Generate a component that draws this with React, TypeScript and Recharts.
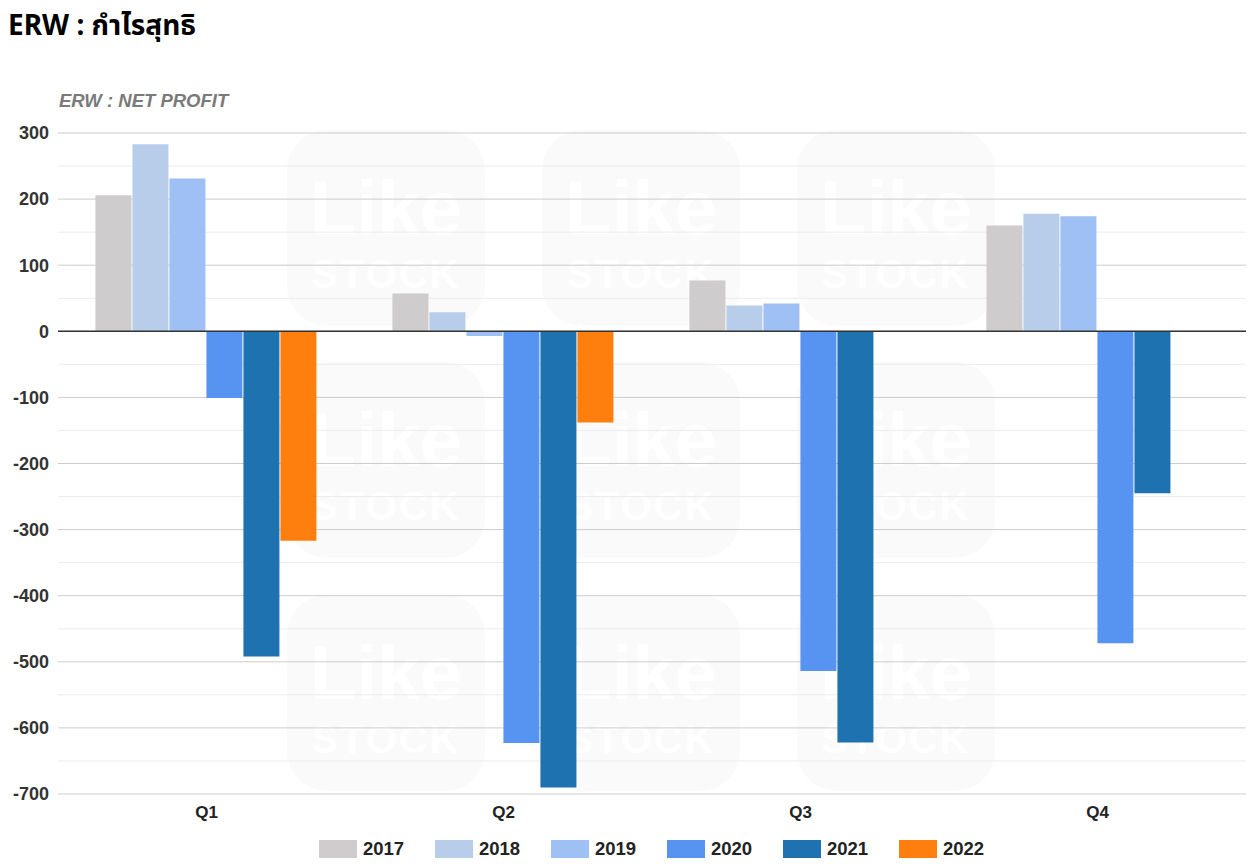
import React from "react";
import { BarChart, Bar, XAxis, YAxis, CartesianGrid, ReferenceLine } from "recharts";

const quarters = ["Q1", "Q2", "Q3", "Q4"];
const years = ["2017", "2018", "2019", "2020", "2021", "2022"];
const colors = ["#cecccc", "#b7cde9", "#9fc0f5", "#5794f2", "#1f72b0", "#ff7f0e"];
const v2017 = [206, 57, 77, 160];
const v2018 = [283, 29, 39, 178];
const v2019 = [231, -7, 42, 174];
const v2020 = [-101, -623, -514, -472];
const v2021 = [-492, -690, -622, -245];
const v2022: (number | null)[] = [-317, -138, null, null];
const yDomain = [-700, 300];
const yTicks = [300, 200, 100, 0, -100, -200, -300, -400, -500, -600, -700];
const minorTicks = [250, 150, 50, -50, -150, -250, -350, -450, -550, -650];

const series = [v2017, v2018, v2019, v2020, v2021, v2022];
const data = quarters.map((q, i) => {
  const row: any = { q };
  years.forEach((y, k) => (row[y] = series[k][i]));
  return row;
});

const font = "'Liberation Sans', Arial, sans-serif";

const wmCols = [287, 542, 797];
const wmRows = [130, 362, 595];

const minorGen = (p: any) => {
  const s = p && p.yAxis && p.yAxis.scale;
  if (typeof s === "function") return minorTicks.map((m) => s(m));
  if (s && typeof s.map === "function") return minorTicks.map((m) => s.map(m));
  const off = p.offset || {};
  const top = off.top ?? 0;
  const h = off.height ?? 0;
  return minorTicks.map((m) => top + ((yDomain[1] - m) / (yDomain[1] - yDomain[0])) * h);
};

export default function App() {
  return (
    <div style={{ position: "absolute", left: 0, top: 0, width: 1257, height: 866, background: "#fff", overflow: "hidden" }}>
      {wmRows.map((t) =>
        wmCols.map((l) => (
          <div
            key={`${l}-${t}`}
            style={{
              position: "absolute",
              left: l,
              top: t,
              width: 198,
              height: 196,
              borderRadius: 40,
              background: "#fafafa",
              color: "#fff",
              fontFamily: font,
              fontWeight: 700,
              textAlign: "center",
              lineHeight: 1,
            }}
          >
            <div style={{ fontSize: 76, marginTop: 40 }}>Like</div>
            <div style={{ fontSize: 40, letterSpacing: 2, marginTop: 8 }}>STOCK</div>
          </div>
        ))
      )}
      <div style={{ position: "absolute", left: 8, top: 5, fontFamily: "'Noto Sans', 'Noto Sans Thai', sans-serif", fontWeight: 700, fontSize: 28, color: "#000" }}>
        ERW : กำไรสุทธิ
      </div>
      <div style={{ position: "absolute", left: 59, top: 90, fontFamily: font, fontWeight: 700, fontStyle: "italic", fontSize: 18.5, color: "#7a7a7a" }}>
        ERW : NET PROFIT
      </div>
      <div style={{ position: "absolute", left: 0, top: 0 }}>
        <BarChart
          width={1257}
          height={866}
          data={data}
          margin={{ top: 133, right: 11, left: 0, bottom: 42 }}
          barGap={1}
          barCategoryGap="12.6%"
        >
          <CartesianGrid vertical={false} stroke="#ececec" horizontalCoordinatesGenerator={minorGen} />
          <CartesianGrid vertical={false} stroke="#cccccc" />
          <XAxis
            dataKey="q"
            axisLine={false}
            tickLine={false}
            height={30}
            tick={{ fontFamily: font, fontWeight: 700, fontSize: 17, fill: "#222" }}
            tickMargin={6}
          />
          <YAxis
            width={58}
            domain={yDomain}
            ticks={yTicks}
            axisLine={false}
            tickLine={false}
            interval={0}
            tick={{ fontFamily: font, fontWeight: 700, fontSize: 18, fill: "#333" }}
            tickMargin={3}
          />
          {years.map((y, k) => (
            <Bar key={y} dataKey={y} fill={colors[k]} isAnimationActive={false} />
          ))}
          <ReferenceLine y={0} stroke="#333333" strokeWidth={1.5} />
        </BarChart>
      </div>
      {years.map((y, k) => (
        <div key={y} style={{ position: "absolute", left: 319 + k * 116, top: 838, display: "flex", alignItems: "center", fontFamily: font, fontWeight: 700, fontSize: 18.5, color: "#222" }}>
          <div style={{ width: 38, height: 18, background: colors[k], marginRight: 6 }} />
          <span>{y}</span>
        </div>
      ))}
    </div>
  );
}
